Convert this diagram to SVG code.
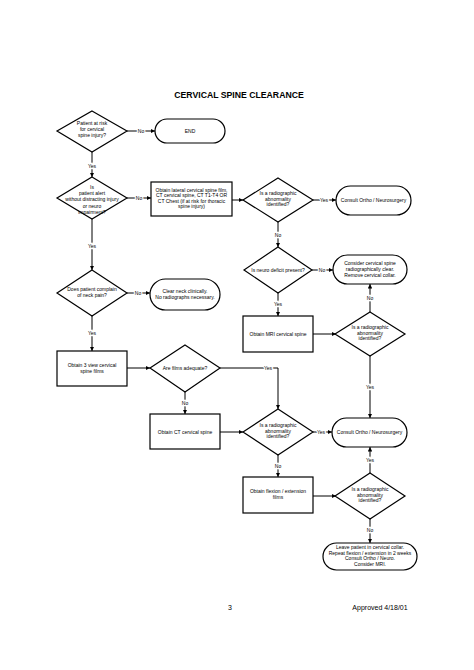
<svg xmlns="http://www.w3.org/2000/svg" width="474" height="670" viewBox="0 0 474 670">
<defs>
<marker id="ah" viewBox="0 0 10 10" refX="10" refY="5" markerWidth="4.5" markerHeight="4.5" orient="auto" markerUnits="userSpaceOnUse">
<path d="M0,0 L10,5 L0,10 z" fill="#000"/>
</marker>
</defs>
<style>
.s{fill:#fff;stroke:#000;stroke-width:1.2}
.t{font-family:"Liberation Sans",Arial,sans-serif;font-size:5px;fill:#000;text-anchor:middle}
.c{fill:none;stroke:#000;stroke-width:1;marker-end:url(#ah)}
.l{font-family:"Liberation Sans",Arial,sans-serif;font-size:5px;fill:#000;text-anchor:middle;dominant-baseline:central;stroke:#fff;stroke-width:2.5;paint-order:stroke}
</style>
<rect width="474" height="670" fill="#fff"/>
<text x="239" y="98" font-family="'Liberation Sans',Arial,sans-serif" font-size="8.7" font-weight="bold" text-anchor="middle">CERVICAL SPINE CLEARANCE</text>

<g id="connectors">
<path class="c" d="M127,131 H155"/>
<path class="c" d="M92,152 V177"/>
<path class="c" d="M127,198 H151"/>
<path class="c" d="M232,200 H243"/>
<path class="c" d="M313,200 H336"/>
<path class="c" d="M278,222 V247"/>
<path class="c" d="M312,270 H333"/>
<path class="c" d="M278,293 V316"/>
<path class="c" d="M313,334 H336"/>
<path class="c" d="M370,312 V284"/>
<path class="c" d="M370,356 V418"/>
<path class="c" d="M92,219 V270"/>
<path class="c" d="M127,293 H150"/>
<path class="c" d="M92,316 V351"/>
<path class="c" d="M127,368 H150"/>
<path class="c" d="M220,368 H278 V409"/>
<path class="c" d="M185,392 V414"/>
<path class="c" d="M220,432 H243"/>
<path class="c" d="M313,432 H332"/>
<path class="c" d="M278,455 V477"/>
<path class="c" d="M313,496 H336"/>
<path class="c" d="M370,473 V447"/>
<path class="c" d="M370,519 V543"/>
<text class="l" x="141" y="131">No</text>
<text class="l" x="92" y="166">Yes</text>
<text class="l" x="139" y="198">No</text>
<text class="l" x="324" y="200">Yes</text>
<text class="l" x="278" y="235">No</text>
<text class="l" x="322" y="270">No</text>
<text class="l" x="278" y="304">Yes</text>
<text class="l" x="370" y="298">No</text>
<text class="l" x="370" y="387">Yes</text>
<text class="l" x="92" y="246">Yes</text>
<text class="l" x="138" y="293">No</text>
<text class="l" x="92" y="333">Yes</text>
<text class="l" x="268" y="368">Yes</text>
<text class="l" x="185" y="403">No</text>
<text class="l" x="321" y="432">Yes</text>
<text class="l" x="278" y="466">No</text>
<text class="l" x="370" y="460">Yes</text>
<text class="l" x="370" y="530">No</text>
</g>

<g id="d1">
<polygon class="s" points="92,111 127,131 92,152 57,131"/>
<text class="t" x="92" y="125">Patient at risk</text>
<text class="t" x="92" y="131">for cervical</text>
<text class="t" x="92" y="137">spine injury?</text>
</g>
<g id="end">
<rect class="s" x="155" y="119" width="70" height="24" rx="12"/>
<text class="t" x="190" y="133">END</text>
</g>
<g id="d2">
<polygon class="s" points="92,177 127,198 92,219 57,198"/>
<text class="t" x="92" y="188.5">Is</text>
<text class="t" x="92" y="194.5">patient alert</text>
<text class="t" x="92" y="201">without distracting injury</text>
<text class="t" x="92" y="207.5">or neuro</text>
<text class="t" x="92" y="214">impairment?</text>
</g>
<g id="b1">
<rect class="s" x="151" y="182" width="81" height="34"/>
<text class="t" x="191.5" y="191.5">Obtain lateral cervical spine film,</text>
<text class="t" x="191.5" y="197">CT cervical spine, CT T1-T4 OR</text>
<text class="t" x="191.5" y="202.5">CT Chest (if at risk for thoracic</text>
<text class="t" x="191.5" y="208">spine injury)</text>
</g>
<g id="d3">
<polygon class="s" points="278,178 313,200 278,222 243,200"/>
<text class="t" x="278" y="195">Is a radiographic</text>
<text class="t" x="278" y="200.5">abnormality</text>
<text class="t" x="278" y="206">identified?</text>
</g>
<g id="consult1">
<rect class="s" x="336" y="186" width="75" height="29" rx="14.5"/>
<text class="t" x="373.5" y="202">Consult Ortho / Neurosurgery</text>
</g>
<g id="d4">
<polygon class="s" points="278,247 312,270 278,293 244,270"/>
<text class="t" x="278" y="272">Is neuro deficit present?</text>
</g>
<g id="consider">
<rect class="s" x="333" y="255" width="74" height="29" rx="14.5"/>
<text class="t" x="370" y="264.5">Consider cervical spine</text>
<text class="t" x="370" y="270.5">radiographically clear.</text>
<text class="t" x="370" y="276.5">Remove cervical collar.</text>
</g>
<g id="mri">
<rect class="s" x="243" y="316" width="70" height="36"/>
<text class="t" x="278" y="336">Obtain MRI cervical spine</text>
</g>
<g id="d5">
<polygon class="s" points="370,312 405,334 370,356 335,334"/>
<text class="t" x="370" y="329">Is a radiographic</text>
<text class="t" x="370" y="334.5">abnormality</text>
<text class="t" x="370" y="340">identified?</text>
</g>
<g id="d6">
<polygon class="s" points="92,270 127,293 92,316 57,293"/>
<text class="t" x="92" y="291">Does patient complain</text>
<text class="t" x="92" y="297">of neck pain?</text>
</g>
<g id="clear">
<rect class="s" x="150" y="279" width="70" height="31" rx="15.5"/>
<text class="t" x="185" y="293">Clear neck clinically.</text>
<text class="t" x="185" y="299">No radiographs necessary.</text>
</g>
<g id="b3">
<rect class="s" x="57" y="351" width="70" height="35"/>
<text class="t" x="92" y="367">Obtain 3 view cervical</text>
<text class="t" x="92" y="373">spine films</text>
</g>
<g id="d7">
<polygon class="s" points="185,345 220,368 185,392 150,368"/>
<text class="t" x="185" y="370">Are films adequate?</text>
</g>
<g id="ct">
<rect class="s" x="150" y="414" width="70" height="35"/>
<text class="t" x="185" y="434">Obtain CT cervical spine</text>
</g>
<g id="d8">
<polygon class="s" points="278,409 313,432 278,455 243,432"/>
<text class="t" x="278" y="427">Is a radiographic</text>
<text class="t" x="278" y="432.5">abnormality</text>
<text class="t" x="278" y="438">identified?</text>
</g>
<g id="consult2">
<rect class="s" x="332" y="418" width="75" height="29" rx="14.5"/>
<text class="t" x="369.5" y="434">Consult Ortho / Neurosurgery</text>
</g>
<g id="flex">
<rect class="s" x="243" y="477" width="70" height="36"/>
<text class="t" x="278" y="493">Obtain flexion / extension</text>
<text class="t" x="278" y="499">films</text>
</g>
<g id="d9">
<polygon class="s" points="370,473 405,496 370,519 335,496"/>
<text class="t" x="370" y="491">Is a radiographic</text>
<text class="t" x="370" y="496.5">abnormality</text>
<text class="t" x="370" y="502">identified?</text>
</g>
<g id="leave">
<rect class="s" x="323" y="543" width="94" height="27" rx="13.5"/>
<text class="t" x="370" y="549">Leave patient in cervical collar.</text>
<text class="t" x="370" y="554.5">Repeat flexion / extension in 2 weeks</text>
<text class="t" x="370" y="560">Consult Ortho / Neuro.</text>
<text class="t" x="370" y="565.5">Consider MRI.</text>
</g>
<text x="230" y="610" font-family="'Liberation Sans',Arial,sans-serif" font-size="7" text-anchor="middle">3</text>
<text x="380" y="610" font-family="'Liberation Sans',Arial,sans-serif" font-size="7" text-anchor="middle">Approved 4/18/01</text>
</svg>
